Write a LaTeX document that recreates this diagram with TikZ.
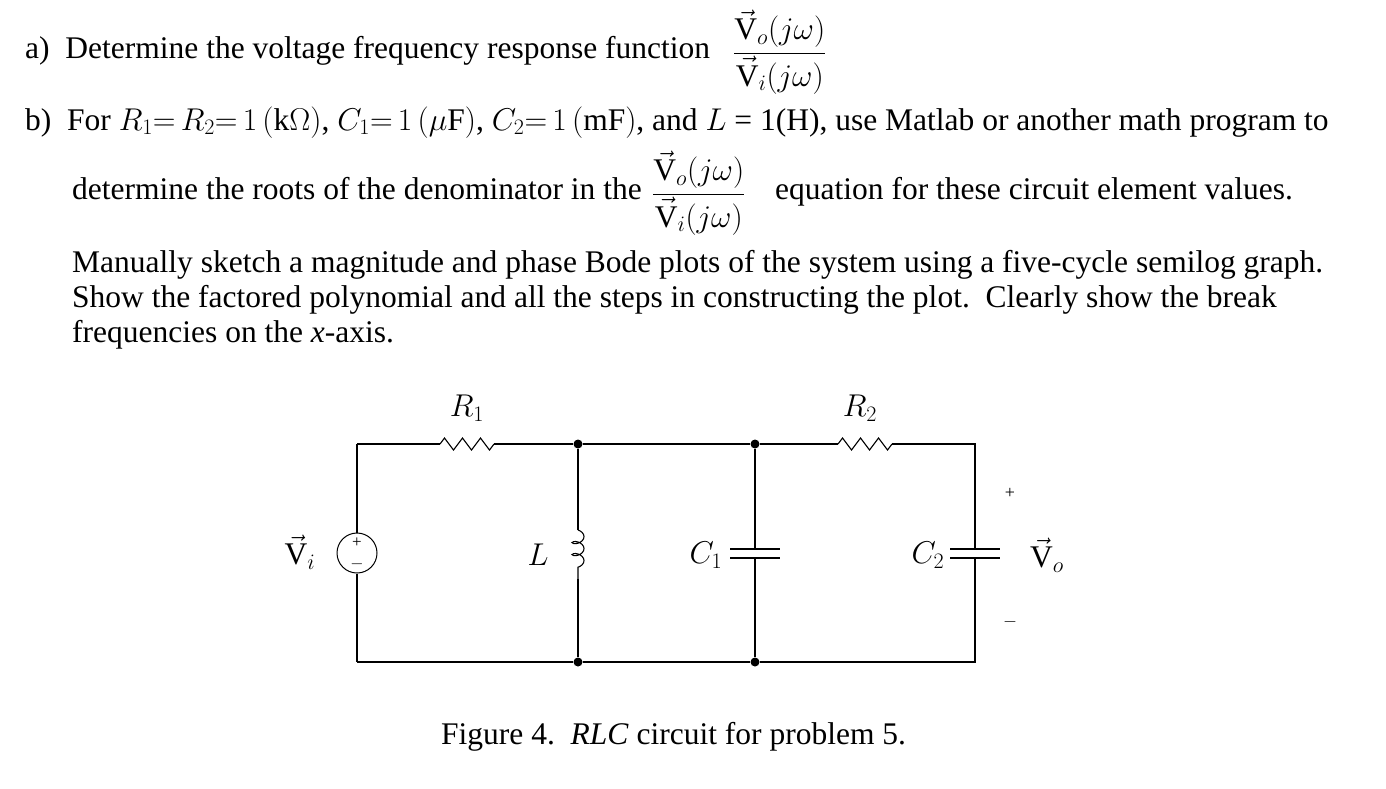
\RequirePackage{fix-cm}
\documentclass[tikz,border=0pt]{standalone}
\usepackage{amsmath}
\usepackage{fontspec}
\setmainfont{Liberation Serif}
\usetikzlibrary{decorations.pathmorphing}
\newcommand{\VV}[1]{\vec{\mathrm{V}}_{#1}}
\newcommand{\Vfrac}{$\dfrac{\VV{o}(j\omega)}{\VV{i}(j\omega)}$}
\begin{document}
\begin{tikzpicture}[x=1pt,y=-1pt,
  txt/.style={anchor=base west,inner sep=0pt,font=\fontsize{31.5}{36}\selectfont},
  lbl/.style={inner sep=0pt,font=\fontsize{31.5}{36}\selectfont},
  wire/.style={line width=1.1pt},
  res/.style={wire,decoration={zigzag,segment length=18pt,amplitude=6pt},decorate},
  dot/.style={circle,fill=black,inner sep=0pt,minimum size=9pt}]
\useasboundingbox (0,0) rectangle (1386,788);
\node[txt] (la) at (25,58) {a)\ \ Determine the voltage frequency response function};
\node[lbl,anchor=west] (fa) at (733,52) {\Vfrac};
\node[txt] (lb) at (25,130) {b)\ \ For $R_1{=}\,R_2{=}\,1\,(\mathrm{k}\Omega)$, $C_1{=}\,1\,(\mu\mathrm{F})$, $C_2{=}\,1\,(\mathrm{mF})$, and $L$ = 1(H), use Matlab or another math program to};
\node[txt] (lc) at (72,199) {determine the roots of the denominator in the};
\node[lbl,anchor=west] (fc) at (652,193) {\Vfrac};
\node[txt] (ld) at (775,199) {equation for these circuit element values.};
\node[txt] (l1) at (72,272) {Manually sketch a magnitude and phase Bode plots of the system using a five-cycle semilog graph.};
\node[txt] (l2) at (72,307) {Show the factored polynomial and all the steps in constructing the plot.\ \ Clearly show the break};
\node[txt] (l3) at (72,342) {frequencies on the \textit{x}-axis.};
% circuit
\coordinate (tl) at (357,444); \coordinate (bl) at (357,662);
\node[dot] (t1) at (578,444) {}; \node[dot] (b1) at (578,662) {};
\node[dot] (t2) at (755,444) {}; \node[dot] (b2) at (755,662) {};
\coordinate (tr) at (975,444); \coordinate (br) at (975,662);
\node[circle,draw,line width=1pt,minimum size=40pt,inner sep=0pt] (src) at (357,553) {};
\node[font=\fontsize{17}{17}\selectfont] at (357,543) {+};
\node[font=\fontsize{17}{17}\selectfont] at (357,564) {$-$};
\draw[wire] (tl) -- (src.north) (src.south) -- (bl);
\draw[wire] (tl) -- (440,444);
\draw[res] (440,444) -- (494,444);
\draw[wire] (494,444) -- (t1) -- (t2) -- (838,444);
\draw[res] (838,444) -- (892,444);
\draw[wire] (892,444) -- (tr) -- (975,549);
\draw[wire] (975,558) -- (br) -- (b2) -- (b1) -- (bl);
% inductor
\draw[wire] (t1) -- (578,530);
\draw[wire,decoration={coil,aspect=0.6,segment length=12pt,amplitude=6pt},decorate] (578,530) -- (578,579);
\draw[wire] (578,579) -- (b1);
% C1
\draw[wire] (t2) -- (755,549) (755,558) -- (b2);
\draw[wire] (730,549) -- (780,549) (730,558) -- (780,558);
% C2
\draw[wire] (950,549) -- (1000,549) (950,558) -- (1000,558);
\node[lbl] at (467,408) {$R_1$};
\node[lbl] at (860,408) {$R_2$};
\node[lbl] at (538,555) {$L$};
\node[lbl] at (706,555) {$C_1$};
\node[lbl] at (928,555) {$C_2$};
\node[lbl] at (300,552) {$\VV{i}$};
\node[lbl] at (1047,555) {$\VV{o}$};
\node[font=\fontsize{18}{18}\selectfont] at (1010,493) {+};
\node[font=\fontsize{18}{18}\selectfont] at (1010,622) {$-$};
\node[txt] (cap) at (441,744) {Figure 4.\ \ \textit{RLC} circuit for problem 5.};
\end{tikzpicture}
\end{document}
